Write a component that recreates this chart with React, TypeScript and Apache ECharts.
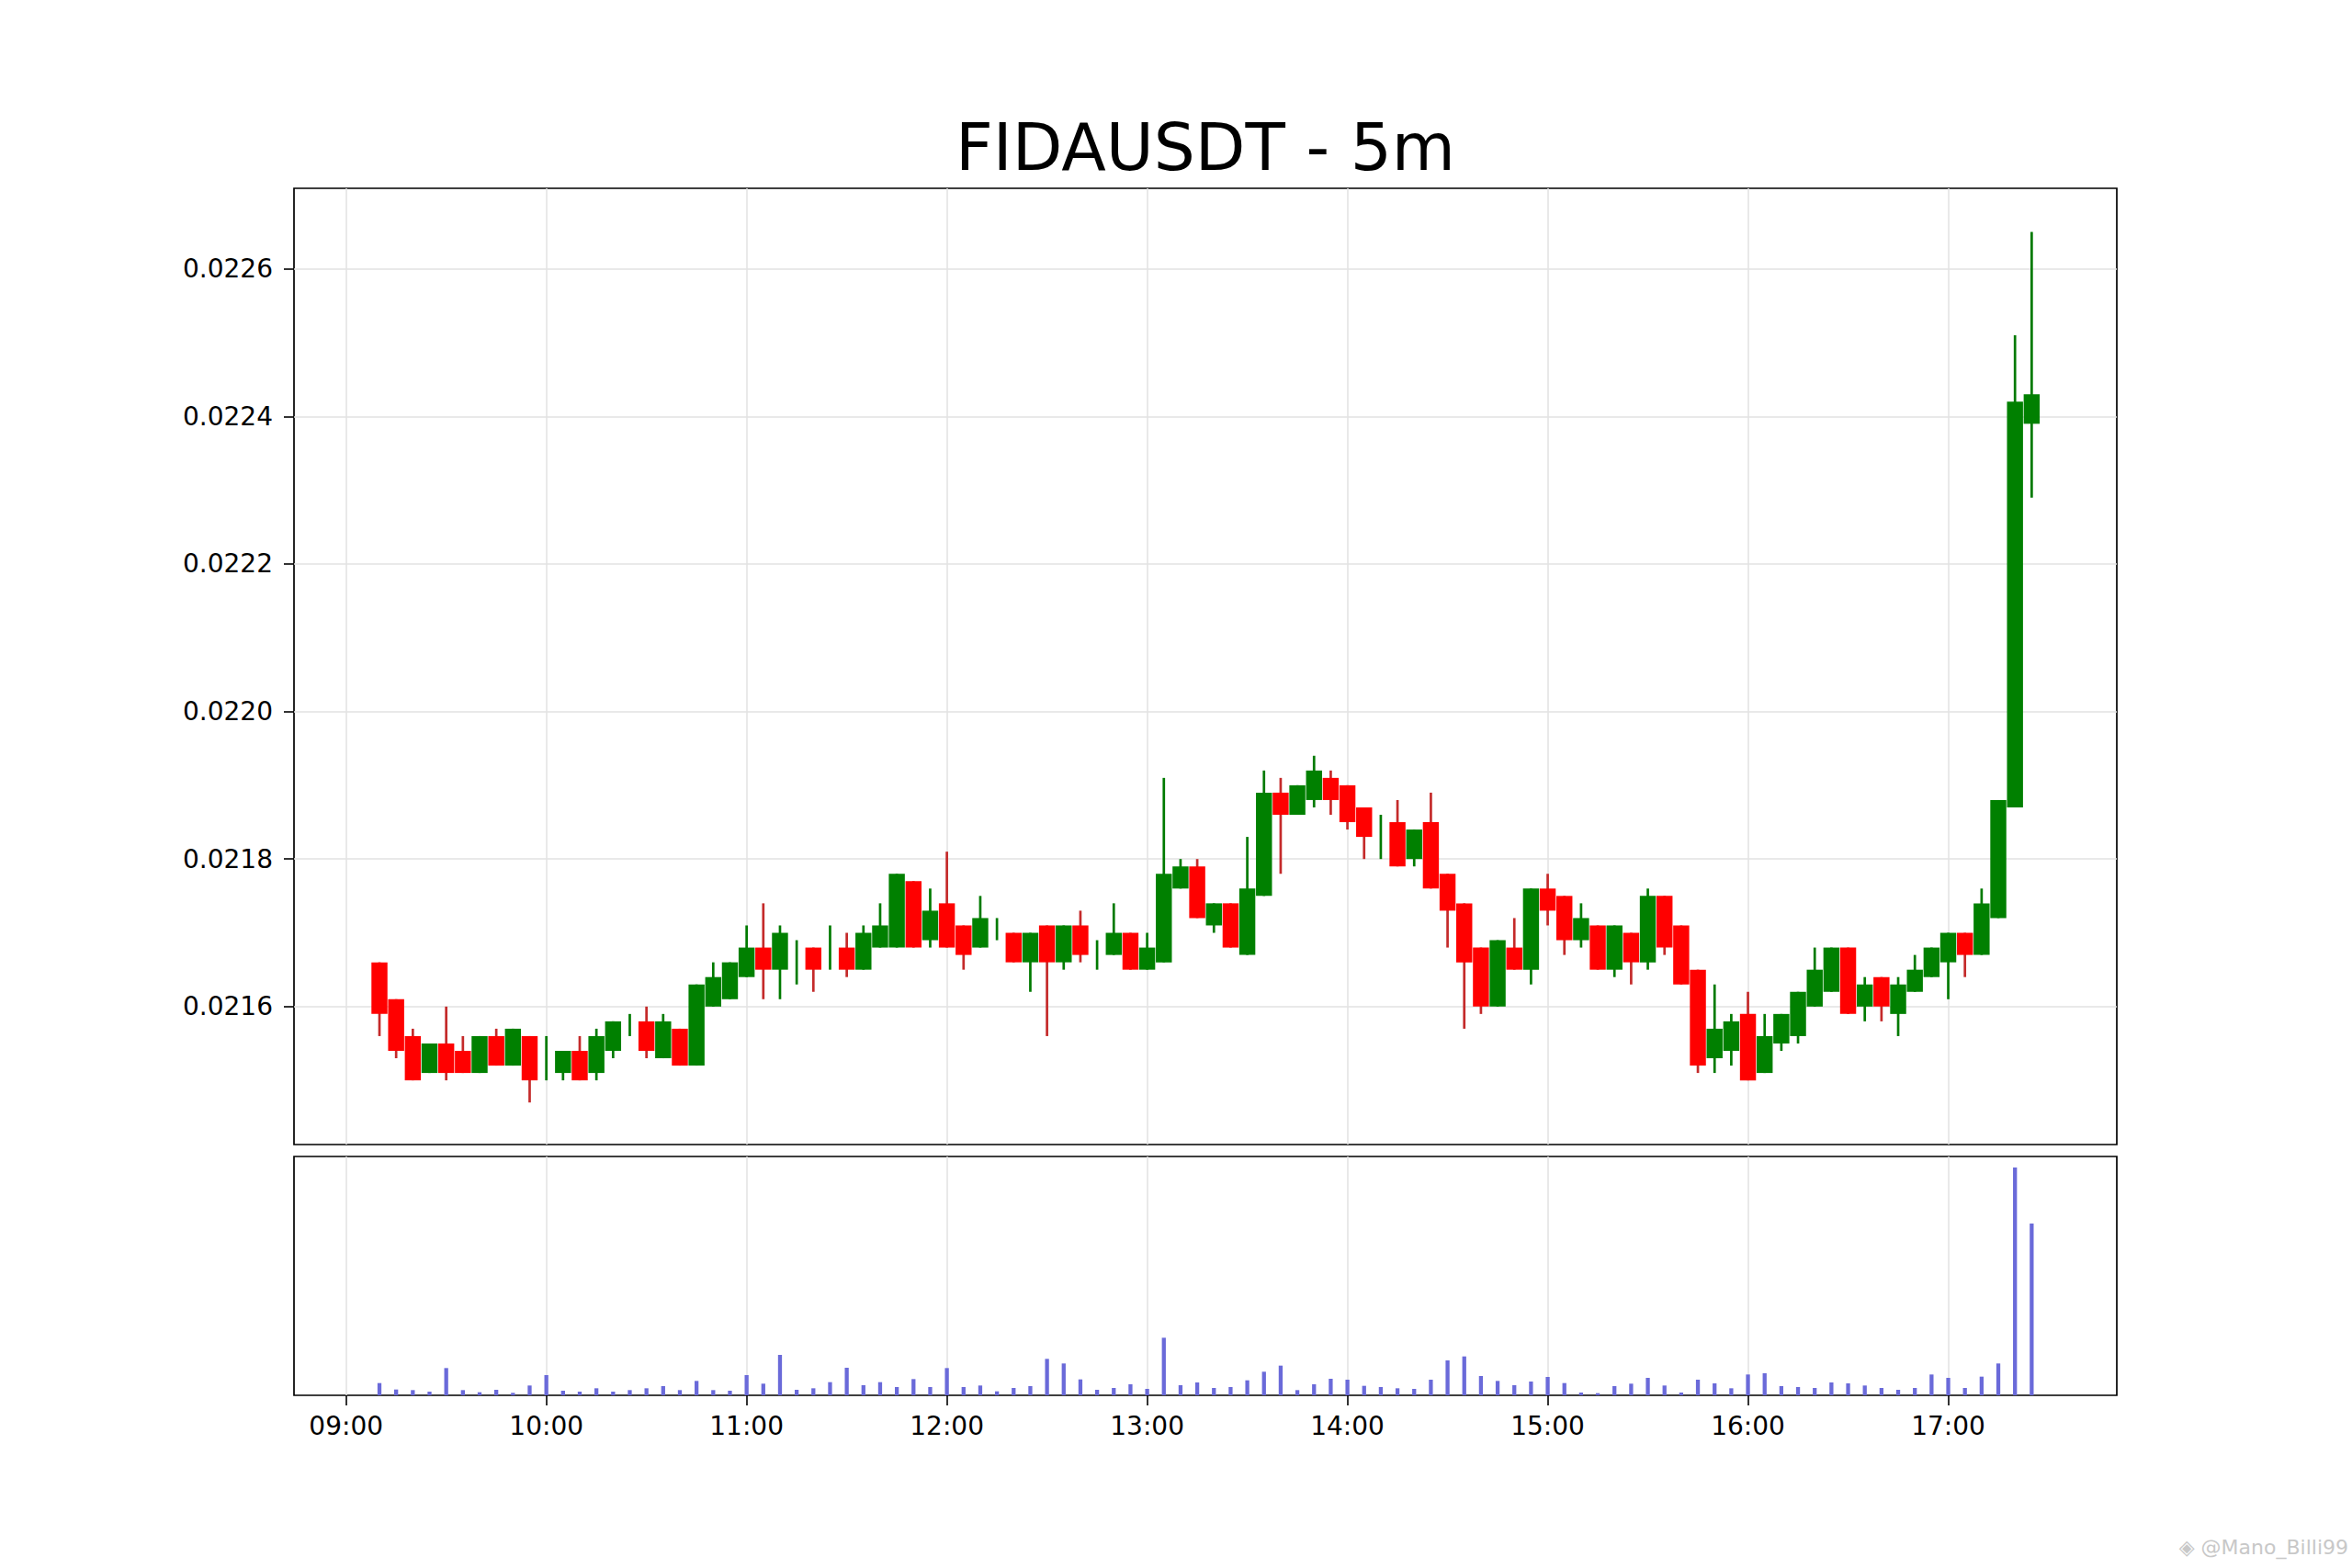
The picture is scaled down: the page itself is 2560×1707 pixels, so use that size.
import React, { useEffect, useRef } from "react";
import * as echarts from "echarts";

const times = [
  "09:10", "09:15", "09:20", "09:25", "09:30", "09:35", "09:40", "09:45", "09:50", "09:55",
  "10:00", "10:05", "10:10", "10:15", "10:20", "10:25", "10:30", "10:35", "10:40", "10:45", "10:50", "10:55",
  "11:00", "11:05", "11:10", "11:15", "11:20", "11:25", "11:30", "11:35", "11:40", "11:45", "11:50", "11:55",
  "12:00", "12:05", "12:10", "12:15", "12:20", "12:25", "12:30", "12:35", "12:40", "12:45", "12:50", "12:55",
  "13:00", "13:05", "13:10", "13:15", "13:20", "13:25", "13:30", "13:35", "13:40", "13:45", "13:50", "13:55",
  "14:00", "14:05", "14:10", "14:15", "14:20", "14:25", "14:30", "14:35", "14:40", "14:45", "14:50", "14:55",
  "15:00", "15:05", "15:10", "15:15", "15:20", "15:25", "15:30", "15:35", "15:40", "15:45", "15:50", "15:55",
  "16:00", "16:05", "16:10", "16:15", "16:20", "16:25", "16:30", "16:35", "16:40", "16:45", "16:50", "16:55",
  "17:00", "17:05", "17:10", "17:15", "17:20", "17:25",
];

const opens = [
  0.02166, 0.02161, 0.02156, 0.02151, 0.02155, 0.02154, 0.02151, 0.02156, 0.02152, 0.02156,
  0.02152, 0.02151, 0.02154, 0.02151, 0.02154, 0.02158, 0.02158, 0.02153, 0.02157, 0.02152,
  0.0216, 0.02161, 0.02164, 0.02168, 0.02165, 0.02166, 0.02168, 0.02168, 0.02168, 0.02165,
  0.02168, 0.02168, 0.02177, 0.02169, 0.02174, 0.02171, 0.02168, 0.0217, 0.0217, 0.02166,
  0.02171, 0.02166, 0.02171, 0.02167, 0.02167, 0.0217, 0.02165, 0.02166, 0.02176, 0.02179,
  0.02171, 0.02174, 0.02167, 0.02175, 0.02189, 0.02186, 0.02188, 0.02191, 0.0219, 0.02187,
  0.02183, 0.02185, 0.0218, 0.02185, 0.02178, 0.02174, 0.02168, 0.0216, 0.02168, 0.02165,
  0.02176, 0.02175, 0.02169, 0.02171, 0.02165, 0.0217, 0.02166, 0.02175, 0.02171, 0.02165,
  0.02153, 0.02154, 0.02159, 0.02151, 0.02155, 0.02156, 0.0216, 0.02162, 0.02168, 0.0216,
  0.02164, 0.02159, 0.02162, 0.02164, 0.02166, 0.0217, 0.02167, 0.02172, 0.02187, 0.02239,
];

const closes = [
  0.02159, 0.02154, 0.0215, 0.02155, 0.02151, 0.02151, 0.02156, 0.02152, 0.02157, 0.0215,
  0.02152, 0.02154, 0.0215, 0.02156, 0.02158, 0.02158, 0.02154, 0.02158, 0.02152, 0.02163,
  0.02164, 0.02166, 0.02168, 0.02165, 0.0217, 0.02166, 0.02165, 0.02168, 0.02165, 0.0217,
  0.02171, 0.02178, 0.02168, 0.02173, 0.02168, 0.02167, 0.02172, 0.0217, 0.02166, 0.0217,
  0.02166, 0.02171, 0.02167, 0.02167, 0.0217, 0.02165, 0.02168, 0.02178, 0.02179, 0.02172,
  0.02174, 0.02168, 0.02176, 0.02189, 0.02186, 0.0219, 0.02192, 0.02188, 0.02185, 0.02183,
  0.02183, 0.02179, 0.02184, 0.02176, 0.02173, 0.02166, 0.0216, 0.02169, 0.02165, 0.02176,
  0.02173, 0.02169, 0.02172, 0.02165, 0.02171, 0.02166, 0.02175, 0.02168, 0.02163, 0.02152,
  0.02157, 0.02158, 0.0215, 0.02156, 0.02159, 0.02162, 0.02165, 0.02168, 0.02159, 0.02163,
  0.0216, 0.02163, 0.02165, 0.02168, 0.0217, 0.02167, 0.02174, 0.02188, 0.02242, 0.02243,
];

const lows = [
  0.02156, 0.02153, 0.0215, 0.02151, 0.0215, 0.02151, 0.02151, 0.02152, 0.02152, 0.02147,
  0.0215, 0.0215, 0.0215, 0.0215, 0.02153, 0.02156, 0.02153, 0.02153, 0.02152, 0.02152,
  0.0216, 0.02161, 0.02164, 0.02161, 0.02161, 0.02163, 0.02162, 0.02165, 0.02164, 0.02165,
  0.02168, 0.02168, 0.02168, 0.02168, 0.02168, 0.02165, 0.02168, 0.02169, 0.02166, 0.02162,
  0.02156, 0.02165, 0.02166, 0.02165, 0.02167, 0.02165, 0.02165, 0.02166, 0.02176, 0.02172,
  0.0217, 0.02168, 0.02167, 0.02175, 0.02178, 0.02186, 0.02187, 0.02186, 0.02184, 0.0218,
  0.0218, 0.02179, 0.02179, 0.02176, 0.02168, 0.02157, 0.02159, 0.0216, 0.02165, 0.02163,
  0.02171, 0.02167, 0.02168, 0.02165, 0.02164, 0.02163, 0.02165, 0.02167, 0.02163, 0.02151,
  0.02151, 0.02152, 0.0215, 0.02151, 0.02154, 0.02155, 0.0216, 0.02162, 0.02159, 0.02158,
  0.02158, 0.02156, 0.02162, 0.02164, 0.02161, 0.02164, 0.02167, 0.02172, 0.02187, 0.02229,
];

const highs = [
  0.02166, 0.02161, 0.02157, 0.02155, 0.0216, 0.02156, 0.02156, 0.02157, 0.02157, 0.02156,
  0.02156, 0.02154, 0.02156, 0.02157, 0.02158, 0.02159, 0.0216, 0.02159, 0.02157, 0.02163,
  0.02166, 0.02166, 0.02171, 0.02174, 0.02171, 0.02169, 0.02168, 0.02171, 0.0217, 0.02171,
  0.02174, 0.02178, 0.02177, 0.02176, 0.02181, 0.02171, 0.02175, 0.02172, 0.0217, 0.0217,
  0.02171, 0.02171, 0.02173, 0.02169, 0.02174, 0.0217, 0.0217, 0.02191, 0.0218, 0.0218,
  0.02174, 0.02174, 0.02183, 0.02192, 0.02191, 0.0219, 0.02194, 0.02192, 0.0219, 0.02187,
  0.02186, 0.02188, 0.02184, 0.02189, 0.02178, 0.02174, 0.02168, 0.02169, 0.02172, 0.02176,
  0.02178, 0.02175, 0.02174, 0.02171, 0.02171, 0.0217, 0.02176, 0.02175, 0.02171, 0.02165,
  0.02163, 0.02159, 0.02162, 0.02159, 0.02159, 0.02162, 0.02168, 0.02168, 0.02168, 0.02164,
  0.02164, 0.02164, 0.02167, 0.02168, 0.0217, 0.0217, 0.02176, 0.02188, 0.02251, 0.02265,
];

// relative volume (no scale shown on the reference)
const volumes = [
  40, 19, 17, 12, 89, 17, 10, 18, 8, 32,
  66, 15, 12, 23, 12, 17, 23, 30, 17, 47,
  17, 15, 66, 38, 132, 18, 23, 43, 90, 33,
  43, 27, 53, 27, 89, 27, 32, 13, 24, 30,
  119, 104, 52, 18, 24, 36, 21, 188, 33, 42,
  24, 27, 49, 77, 97, 17, 36, 54, 51, 31,
  27, 23, 21, 51, 114, 127, 63, 47, 33, 45,
  60, 40, 9, 7, 30, 38, 57, 32, 9, 51,
  39, 23, 68, 72, 30, 27, 24, 42, 39, 32,
  24, 18, 24, 68, 57, 24, 61, 104, 744, 561,
];

const xTickLabels = ["09:00", "10:00", "11:00", "12:00", "13:00", "14:00", "15:00", "16:00", "17:00"];
const yTicks = [0.0216, 0.0218, 0.022, 0.0222, 0.0224, 0.0226];

const TITLE = "FIDAUSDT - 5m";
const WATERMARK = "◈ @Mano_Billi99";

const toMin = (s: string) => {
  const [h, m] = s.split(":").map(Number);
  return h * 60 + m;
};
const fmtMin = (v: number) => {
  const h = Math.floor(v / 60);
  const m = Math.round(v - h * 60);
  return String(h).padStart(2, "0") + ":" + String(m).padStart(2, "0");
};

const FONT = "DejaVu Sans";
const UP = "#008000";
const DOWN = "#ff0000";
const UP_WICK = "#007a00";
const DOWN_WICK = "#c42a2a";
const GRIDLINE = "#e2e2e2";

export default function App() {
  const ref = useRef<HTMLDivElement>(null);

  useEffect(() => {
    if (!ref.current) return;
    const chart = echarts.init(ref.current, null, { renderer: "svg" });

    const candleData = times.map((t, i) => [toMin(t), opens[i], closes[i], lows[i], highs[i]]);
    const volData = times.map((t, i) => [toMin(t), volumes[i]]);
    const xTickVals = xTickLabels.map(toMin);

    const xMin = 524.4;
    const xMax = 1070.5;

    const baseX = {
      type: "value",
      min: xMin,
      max: xMax,
      minInterval: 60,
      maxInterval: 60,
      axisLine: { show: false },
      splitLine: { show: true, lineStyle: { color: GRIDLINE, width: 1.5 } },
    };

    const option: any = {
      animation: false,
      backgroundColor: "#ffffff",
      textStyle: { fontFamily: FONT },
      graphic: [
        {
          type: "text",
          x: 1312,
          y: 160,
          style: {
            text: TITLE,
            fontSize: 71,
            fontFamily: FONT,
            fill: "#000",
            align: "center",
            verticalAlign: "middle",
          },
        },
        {
          type: "text",
          right: 4,
          bottom: 12,
          style: {
            text: WATERMARK,
            fontSize: 22,
            fontFamily: FONT,
            fill: "#c8c8c8",
          },
        },
      ],
      grid: [
        { left: 320, top: 205, width: 1984, height: 1041, show: true, borderColor: "#000", borderWidth: 1.7, backgroundColor: "transparent" },
        { left: 320, top: 1259, width: 1984, height: 260, show: true, borderColor: "#000", borderWidth: 1.7, backgroundColor: "transparent" },
      ],
      xAxis: [
        {
          ...baseX,
          gridIndex: 0,
          axisLabel: { show: false },
          axisTick: { show: false, customValues: xTickVals },
        },
        {
          ...baseX,
          gridIndex: 1,
          axisTick: {
            show: true,
            length: 11,
            inside: false,
            customValues: xTickVals,
            lineStyle: { color: "#000", width: 1.6 },
          },
          axisLabel: {
            show: true,
            customValues: xTickVals,
            margin: 19,
            fontSize: 28,
            fontFamily: FONT,
            color: "#000",
            formatter: (v: number) => fmtMin(v),
          },
        },
      ],
      yAxis: [
        {
          type: "value",
          gridIndex: 0,
          min: 0.021413,
          max: 0.0227092,
          minInterval: 0.0002,
          maxInterval: 0.0002,
          axisLine: { show: false },
          axisTick: {
            show: true,
            length: 11,
            customValues: yTicks,
            lineStyle: { color: "#000", width: 1.6 },
          },
          axisLabel: {
            show: true,
            customValues: yTicks,
            margin: 23,
            fontSize: 28,
            fontFamily: FONT,
            color: "#000",
            formatter: (v: number) => v.toFixed(4),
          },
          splitLine: { show: true, lineStyle: { color: GRIDLINE, width: 1.5 } },
        },
        {
          type: "value",
          gridIndex: 1,
          min: 0,
          max: 780,
          axisLine: { show: false },
          axisTick: { show: false },
          axisLabel: { show: false },
          splitLine: { show: false },
        },
      ],
      series: [
        {
          type: "custom",
          name: "price",
          xAxisIndex: 0,
          yAxisIndex: 0,
          clip: true,
          encode: { x: 0, y: [1, 2, 3, 4] },
          data: candleData,
          renderItem: (params: any, api: any) => {
            const x = api.value(0);
            const o = api.value(1);
            const c = api.value(2);
            const l = api.value(3);
            const h = api.value(4);
            const up = c >= o;
            const pTop = api.coord([x, Math.max(o, c)]);
            const pBot = api.coord([x, Math.min(o, c)]);
            const pH = api.coord([x, h]);
            const pL = api.coord([x, l]);
            const w = api.size([5, 0])[0] * 0.96;
            return {
              type: "group",
              children: [
                {
                  type: "line",
                  shape: { x1: pH[0], y1: pH[1], x2: pL[0], y2: pL[1] },
                  style: { stroke: up ? UP_WICK : DOWN_WICK, lineWidth: 2.7 },
                },
                {
                  type: "rect",
                  shape: {
                    x: pTop[0] - w / 2,
                    y: pTop[1],
                    width: w,
                    height: Math.max(pBot[1] - pTop[1], 0),
                  },
                  style: { fill: up ? UP : DOWN },
                },
              ],
            };
          },
        },
        {
          type: "bar",
          name: "volume",
          xAxisIndex: 1,
          yAxisIndex: 1,
          data: volData,
          barWidth: 4.3,
          itemStyle: { color: "#6a6ad9" },
        },
      ],
    };

    chart.setOption(option);
    return () => chart.dispose();
  }, []);

  return (
    <div
      ref={ref}
      style={{ position: "absolute", left: 0, top: 0, width: 2560, height: 1707, background: "#fff" }}
    />
  );
}
